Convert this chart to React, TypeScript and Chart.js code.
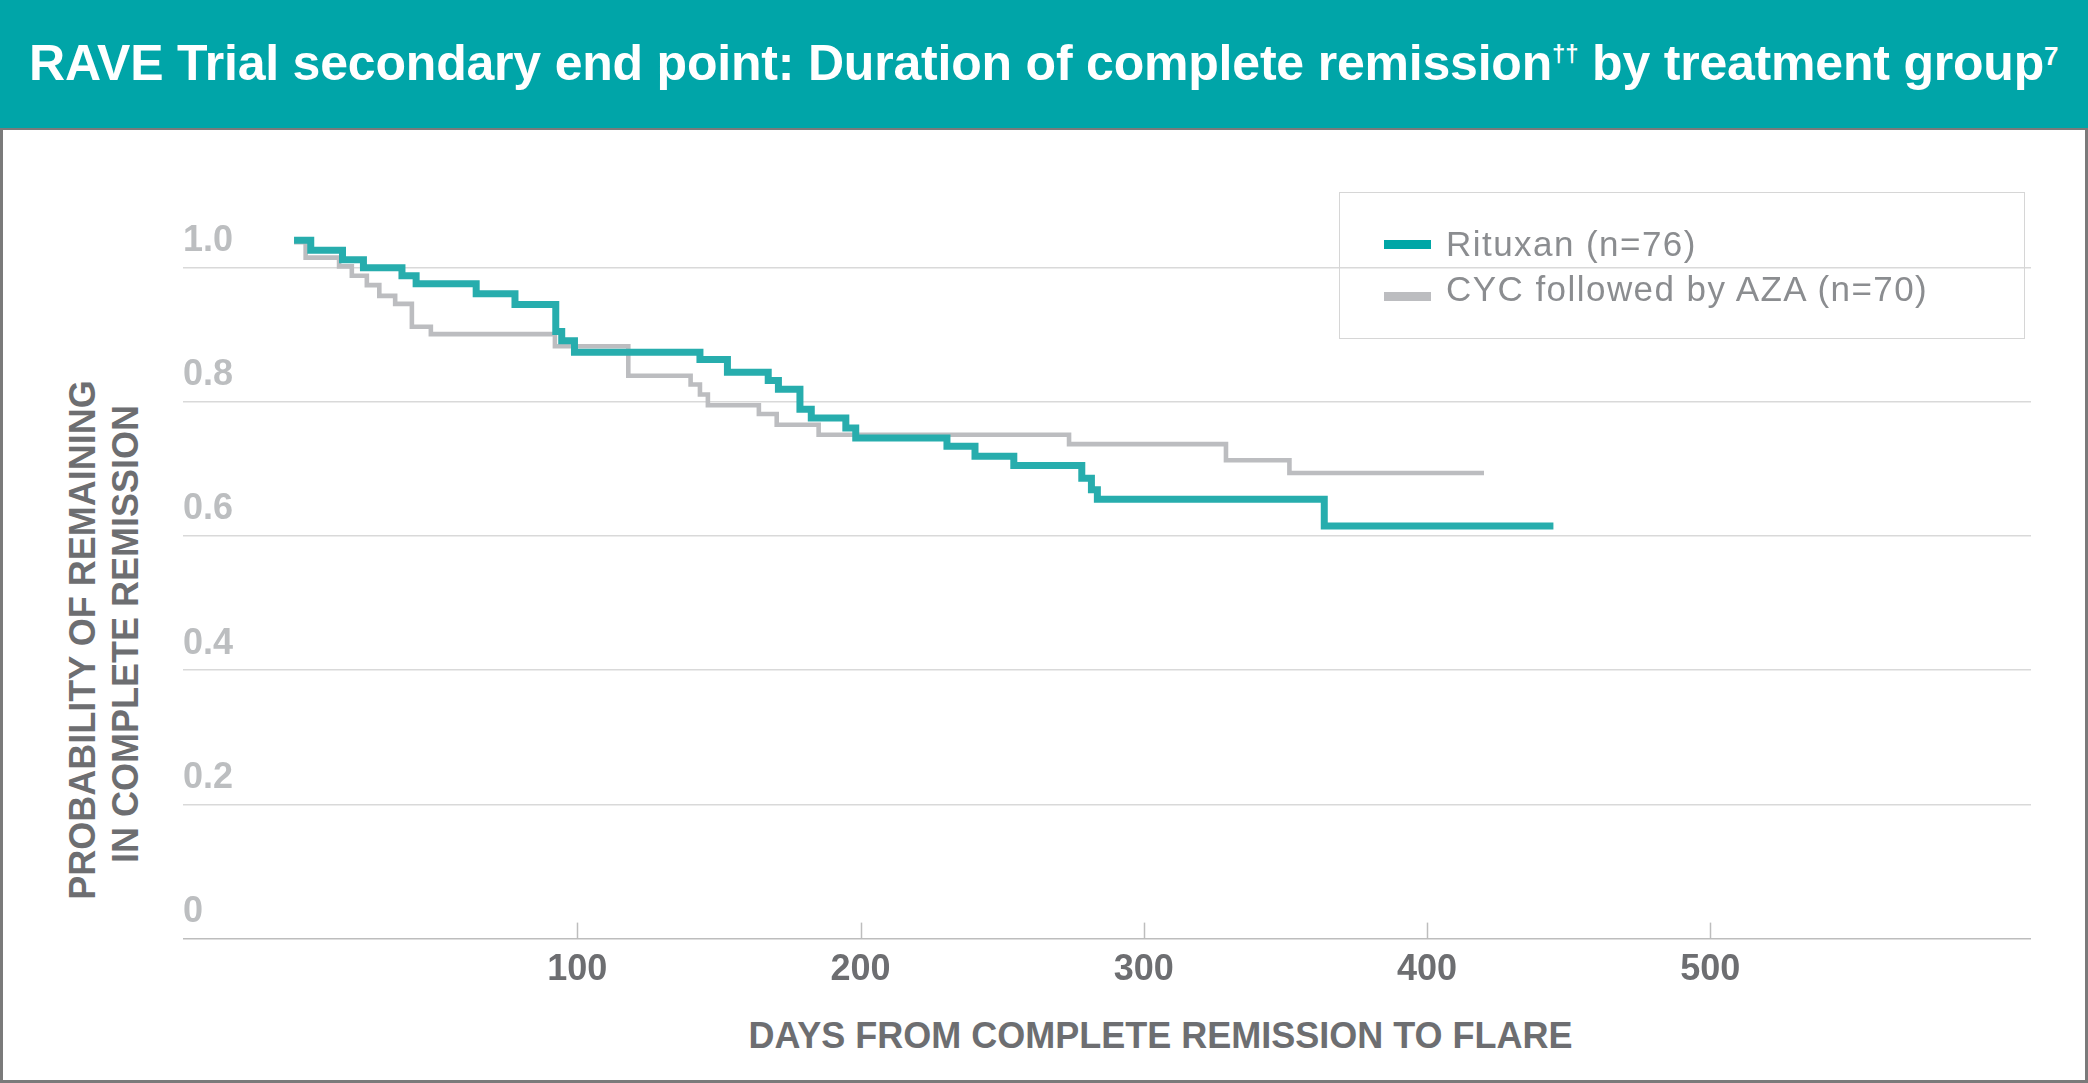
import React, { useEffect, useRef } from "react";
import { Chart, registerables } from "chart.js";

Chart.register(...registerables);

// ---------- data ----------
const SERIES_LABELS = ["Rituxan (n=76)", "CYC followed by AZA (n=70)"];

const RITUXAN_DAYS = [
  0, 5.9, 17.1, 24.5, 38.1, 43.1, 64.3, 78.0, 92.4, 94.5, 99.0, 143.3, 153.0,
  167.4, 171.0, 178.6, 182.6, 194.8, 198.3, 230.5, 240.4, 254.1, 278.1, 281.5,
  283.6, 363.7, 444.6,
];
const RITUXAN_SURV = [
  1.041, 1.026, 1.012, 1.0, 0.988, 0.976, 0.961, 0.945, 0.905, 0.891, 0.874,
  0.863, 0.844, 0.832, 0.819, 0.789, 0.776, 0.761, 0.746, 0.734, 0.719, 0.705,
  0.686, 0.669, 0.655, 0.615, 0.615,
];

const CYC_DAYS = [
  0, 4.1, 15.9, 20.4, 25.7, 30.1, 35.7, 41.6, 48.3, 92.1, 118.0, 140.0, 143.3,
  146.1, 164.1, 170.4, 185.2, 273.6, 329.0, 351.4, 420.1,
];
const CYC_SURV = [
  1.038, 1.015, 1.002, 0.988, 0.974, 0.958, 0.946, 0.912, 0.901, 0.883, 0.839,
  0.826, 0.811, 0.795, 0.782, 0.766, 0.751, 0.737, 0.713, 0.694, 0.694,
];

const X_TICKS = [100, 200, 300, 400, 500];
const Y_TICKS = [0, 0.2, 0.4, 0.6, 0.8, 1.0];

const TITLE_MAIN = "RAVE Trial secondary end point: Duration of complete remission";
const TITLE_SUP1 = "\u2020\u2020";
const TITLE_END = " by treatment group";
const TITLE_SUP2 = "7";
const X_TITLE = "DAYS FROM COMPLETE REMISSION TO FLARE";
const Y_TITLE = ["PROBABILITY OF REMAINING", "IN COMPLETE REMISSION"];

// ---------- styles ----------
const FONT = "'Liberation Sans', Arial, Helvetica, sans-serif";
const TEAL_HEADER = "#00a5a8";
const TEAL_LINE = "#27adad";
const TEAL_SWATCH = "#00a6a6";
const GRAY_LINE = "#bcbdc0";
const AXIS_DARK = "#6d6e71";
const Y_LABEL = "#bcbec0";
const LEGEND_TEXT = "#8b8d90";

const X_MIN = -39.2;
const X_MAX = 613.2;
const Y_MAX = 1.1;

const tickMarks = {
  id: "tickMarks",
  beforeDatasetsDraw(chart: any) {
    const { ctx, chartArea } = chart;
    const x = chart.scales.x;
    ctx.save();
    ctx.strokeStyle = "#bdbdbd";
    ctx.lineWidth = 1.5;
    x.ticks.forEach((t: any) => {
      const px = Math.round(x.getPixelForValue(t.value)) + 0.5;
      ctx.beginPath();
      ctx.moveTo(px, chartArea.bottom);
      ctx.lineTo(px, chartArea.bottom - 16);
      ctx.stroke();
    });
    ctx.restore();
  },
};

function toPoints(xs: number[], ys: number[]) {
  return xs.map((x, i) => ({ x, y: ys[i] }));
}

export default function App() {
  const canvasRef = useRef<HTMLCanvasElement | null>(null);

  useEffect(() => {
    document.body.style.margin = "0";
    document.body.style.overflow = "hidden";
    const canvas = canvasRef.current;
    if (!canvas) return;
    const tickFont = { family: FONT, size: 36, weight: "bold" as const };
    const chart = new Chart(canvas, {
      type: "line",
      data: {
        datasets: [
          {
            label: SERIES_LABELS[0],
            data: toPoints(RITUXAN_DAYS, RITUXAN_SURV),
            borderColor: TEAL_LINE,
            backgroundColor: TEAL_LINE,
            borderWidth: 7,
            stepped: "before",
            pointRadius: 0,
            fill: false,
            borderJoinStyle: "miter",
            borderCapStyle: "butt",
          },
          {
            label: SERIES_LABELS[1],
            data: toPoints(CYC_DAYS, CYC_SURV),
            borderColor: GRAY_LINE,
            backgroundColor: GRAY_LINE,
            borderWidth: 4.6,
            stepped: "before",
            pointRadius: 0,
            fill: false,
            borderJoinStyle: "miter",
            borderCapStyle: "butt",
          },
        ],
      },
      options: {
        animation: false,
        responsive: true,
        maintainAspectRatio: false,
        events: [],
        layout: { autoPadding: false, padding: { top: 18.8, left: 0, right: 0, bottom: 0 } },
        plugins: {
          legend: { display: false },
          tooltip: { enabled: false },
          title: { display: false },
        },
        scales: {
          x: {
            type: "linear",
            min: X_MIN,
            max: X_MAX,
            grid: { display: false, drawTicks: false },
            border: { display: false },
            afterBuildTicks: (axis: any) => {
              axis.ticks = X_TICKS.map((v) => ({ value: v }));
            },
            ticks: {
              color: AXIS_DARK,
              font: tickFont,
              padding: 10,
              maxRotation: 0,
              autoSkip: false,
              callback: (v: any) => String(v),
            },
          },
          y: {
            type: "linear",
            min: 0,
            max: Y_MAX,
            grid: {
              color: (c: any) => (c.tick && c.tick.value === 0 ? "#bdbdbd" : "#d9d9d9"),
              lineWidth: 1.5,
              drawTicks: false,
            },
            border: { display: false },
            afterBuildTicks: (axis: any) => {
              axis.ticks = Y_TICKS.map((v) => ({ value: v }));
            },
            ticks: {
              mirror: true,
              padding: 0,
              labelOffset: -26.5,
              color: Y_LABEL,
              font: tickFont,
              callback: (v: any) => (Number(v) === 0 ? "0" : Number(v).toFixed(1)),
            },
          },
        },
      },
      plugins: [tickMarks],
    } as any);
    return () => chart.destroy();
  }, []);

  const legendText: React.CSSProperties = {
    position: "absolute",
    left: 1446,
    fontFamily: FONT,
    fontSize: 35,
    lineHeight: "35px",
    letterSpacing: "1.45px",
    color: LEGEND_TEXT,
    whiteSpace: "nowrap",
  };

  const yTitle = (cx: number, cy: number): React.CSSProperties => ({
    position: "absolute",
    left: cx,
    top: cy,
    transform: "translate(-50%, -50%) rotate(-90deg)",
    fontFamily: FONT,
    fontWeight: "bold",
    fontSize: 36,
    lineHeight: "36px",
    color: AXIS_DARK,
    whiteSpace: "nowrap",
  });

  return (
    <div
      style={{
        position: "absolute",
        left: 0,
        top: 0,
        width: 2088,
        height: 1083,
        background: "#ffffff",
        overflow: "hidden",
      }}
    >
      {/* header */}
      <div
        style={{
          position: "absolute",
          left: 0,
          top: 0,
          width: 2088,
          height: 128,
          background: TEAL_HEADER,
        }}
      />
      <div
        style={{
          position: "absolute",
          left: 29,
          top: 37.7,
          fontFamily: FONT,
          fontWeight: "bold",
          fontSize: 50,
          lineHeight: "50px",
          letterSpacing: "-0.2px",
          color: "#ffffff",
          whiteSpace: "nowrap",
        }}
      >
        {TITLE_MAIN}
        <span style={{ fontSize: 24, position: "relative", top: -17.8 }}>{TITLE_SUP1}</span>
        {TITLE_END}
        <span style={{ fontSize: 26, position: "relative", top: -14.7 }}>{TITLE_SUP2}</span>
      </div>

      {/* panel border */}
      <div
        style={{
          position: "absolute",
          left: 0,
          top: 128,
          width: 2088,
          height: 955,
          boxSizing: "border-box",
          borderStyle: "solid",
          borderColor: "#7a7a7a",
          borderWidth: "2px 3px 3px 3px",
        }}
      />

      {/* chart */}
      <div
        style={{
          position: "absolute",
          left: 183,
          top: 178.5,
          width: 1848,
          height: 822.8,
        }}
      >
        <canvas ref={canvasRef} />
      </div>

      {/* axis titles */}
      <div style={yTitle(82.5, 639.5)}>{Y_TITLE[0]}</div>
      <div style={yTitle(125.8, 634)}>{Y_TITLE[1]}</div>
      <div
        style={{
          position: "absolute",
          left: 1160.5,
          top: 1017.8,
          transform: "translateX(-50%)",
          fontFamily: FONT,
          fontWeight: "bold",
          fontSize: 36,
          lineHeight: "36px",
          color: AXIS_DARK,
          whiteSpace: "nowrap",
        }}
      >
        {X_TITLE}
      </div>

      {/* legend */}
      <div
        style={{
          position: "absolute",
          left: 1339,
          top: 192,
          width: 686,
          height: 147,
          boxSizing: "border-box",
          border: "1.5px solid #d6d6d6",
        }}
      />
      <div
        style={{ position: "absolute", left: 1384, top: 240, width: 47, height: 9, background: TEAL_SWATCH }}
      />
      <div
        style={{ position: "absolute", left: 1384, top: 292, width: 47, height: 9, background: GRAY_LINE }}
      />
      <div style={{ ...legendText, top: 225.5 }}>{SERIES_LABELS[0]}</div>
      <div style={{ ...legendText, top: 271 }}>{SERIES_LABELS[1]}</div>
    </div>
  );
}
